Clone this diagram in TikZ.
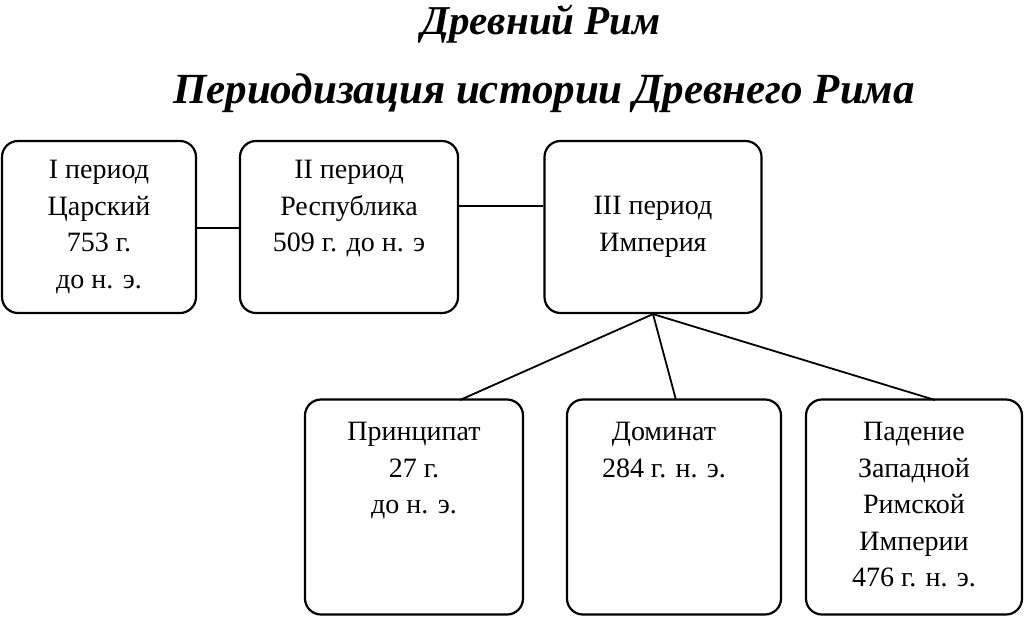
\documentclass[tikz,border=0pt]{standalone}
\usepackage{fontspec}
\setmainfont{Liberation Serif}
\usetikzlibrary{positioning}
\tikzset{
period/.style={draw=black, line width=2.2pt, rounded corners=16pt, inner sep=0pt},
label/.style={align=center, font=\fontsize{28}{36.5}\selectfont, anchor=north, inner sep=0pt},
connect/.style={line width=1.8pt}
}
\begin{document}
\begin{tikzpicture}[x=1pt,y=-1pt]
        \useasboundingbox (0,0) rectangle (1024,619);
        \node[font=\fontsize{41}{46}\bfseries\itshape\selectfont] (title) at (541,24) {Древний Рим};
        \node[font=\fontsize{43}{46}\bfseries\itshape\selectfont] (subtitle) at (544,93) {Периодизация истории Древнего Рима};

        \node[period, minimum width=194pt, minimum height=172pt] (king) at (99,227) {};
        \node[period, minimum width=218pt, minimum height=172pt] (rep) at (349,227) {};
        \node[period, minimum width=217pt, minimum height=172pt] (emp) at (653,227) {};
        \node[period, minimum width=218pt, minimum height=215pt] (princ) at (414,507) {};
        \node[period, minimum width=214pt, minimum height=215pt] (dom) at (674,507) {};
        \node[period, minimum width=216pt, minimum height=215pt] (fall) at (914,507) {};

        \node[label] (king_t) at (99,160) {I период\\Царский\\753 г.\\до н. э.};
        \node[label] (rep_t) at (349,160) {II период\\Республика\\509 г. до н. э};
        \node[label] (emp_t) at (653,196) {III период\\Империя};
        \node[label] (princ_t) at (414,422) {Принципат\\27 г.\\до н. э.};
        \node[label] (dom_t) at (664,422) {Доминат\\284 г. н. э.};
        \node[label] (fall_t) at (914,422) {Падение\\Западной\\Римской\\Империи\\476 г. н. э.};

        \coordinate (hub) at (emp.south);
        \draw[connect] (king.east |- 0,228) -- (rep.west |- 0,228);
        \draw[connect] (rep.east |- 0,206) -- (emp.west |- 0,206);
        \draw[connect] (hub) -- (460,400);
        \draw[connect] (hub) -- (676,400);
        \draw[connect] (hub) -- (935,400);
    \end{tikzpicture}
\end{document}
